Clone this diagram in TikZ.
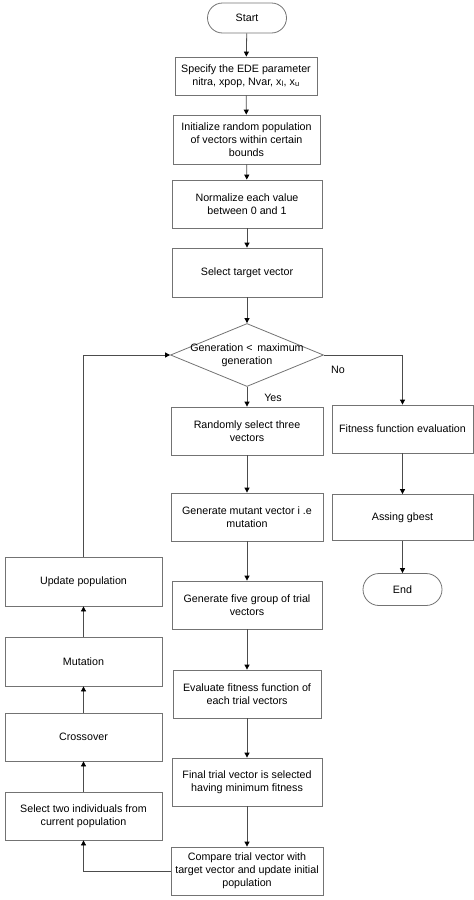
\documentclass[tikz,border=0pt]{standalone}
\usepackage{fontspec}
\setmainfont{Liberation Sans}
\usetikzlibrary{shapes.geometric,arrows.meta}
\begin{document}
\begin{tikzpicture}[x=1pt,y=-1pt,
  txt/.style={font=\fontsize{10.7}{13}\selectfont, text=black},
  box/.style={txt, draw=black!55, line width=0.8pt, minimum width=150pt, minimum height=48pt, align=center, inner sep=2pt},
  sbox/.style={box, minimum width=141pt},
  lbox/.style={box, minimum width=157pt, minimum height=49pt},
  pill/.style={txt, draw=black!55, line width=0.8pt, minimum width=79pt, minimum height=30pt, rounded corners=15pt},
  dec/.style={diamond, draw=black!55, line width=0.8pt, minimum width=153pt, minimum height=63pt, inner sep=0pt},
  arr/.style={draw=black!70, line width=0.8pt, -{Triangle[length=5pt,width=5pt,color=black]}},
]
\useasboundingbox (0,0) rectangle (474,900);

% main column
\node[pill] (start) at (247,18) {Start};
\node[box, minimum width=142pt, minimum height=38pt] (spec) at (246,76) {Specify the EDE parameter\\nitra, xpop, Nvar, x\textsubscript{l}, x\textsubscript{u}};
\node[box, minimum width=147pt, minimum height=49pt] (init) at (246.5,139.5) {Initialize random population\\of vectors within certain\\bounds};
\node[box] (norm) at (247,204) {Normalize each value\\between 0 and 1};
\node[box, minimum height=49pt] (target) at (247,272.5) {Select target vector};
\node[dec] (dia) at (247,355) {};
\node[txt, align=center] (diatext) at (247,355) {Generation <\, maximum\\generation};
\node[box, minimum width=152pt] (rand) at (247,431) {Randomly select three\\vectors};
\node[box, minimum width=152pt] (mutant) at (247,517) {Generate mutant vector i .e\\mutation};
\node[box] (five) at (247,605) {Generate five group of trial\\vectors};
\node[box, minimum width=148pt] (eval) at (247,694) {Evaluate fitness function of\\each trial vectors};
\node[box] (final) at (247,782) {Final trial vector is selected\\having minimum fitness};
\node[box, minimum width=152pt] (comp) at (247,871) {Compare trial vector with\\target vector and update initial\\population};

% right column
\node[sbox] (fit) at (402.5,429) {Fitness function evaluation};
\node[sbox, minimum height=46pt] (gbest) at (402.5,517.5) {Assing gbest};
\node[pill, minimum height=32pt, rounded corners=16pt] (end) at (402.5,589.5) {End};

% left column
\node[lbox] (upd) at (83.5,581.5) {Update population};
\node[lbox] (mut) at (83.5,661.5) {Mutation};
\node[lbox, minimum height=48pt] (cross) at (83.5,737) {Crossover};
\node[lbox, minimum height=48pt] (sel) at (83.5,816) {Select two individuals from\\current population};

% labels
\node[txt] (yes) at (273,398) {Yes};
\node[txt] (no) at (338,370) {No};

% connectors
\draw[arr] (start) -- (spec);
\draw[arr] (spec) -- (init);
\draw[arr] (init) -- (norm);
\draw[arr] (norm) -- (target);
\draw[arr] (target) -- (dia.north);
\draw[arr] (dia.south) -- (rand);
\draw[arr] (dia.east) -| (fit.north);
\draw[arr] (rand) -- (mutant);
\draw[arr] (mutant) -- (five);
\draw[arr] (five) -- (eval);
\draw[arr] (eval) -- (final);
\draw[arr] (final) -- (comp);
\draw[arr] (fit) -- (gbest);
\draw[arr] (gbest) -- (end);
\draw[arr] (comp.west) -| (sel.south);
\draw[arr] (sel) -- (cross);
\draw[arr] (cross) -- (mut);
\draw[arr] (mut) -- (upd);
\draw[arr] (upd.north) |- (dia.west);
\end{tikzpicture}
\end{document}
